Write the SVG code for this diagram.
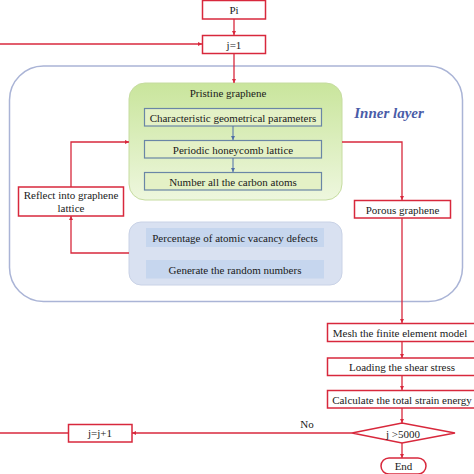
<svg xmlns="http://www.w3.org/2000/svg" width="474" height="474" viewBox="0 0 474 474">
<defs>
<linearGradient id="gGreen" x1="0" y1="0" x2="0" y2="1">
<stop offset="0" stop-color="#c9e59c"/>
<stop offset="1" stop-color="#eef7de"/>
</linearGradient>
<marker id="arR" viewBox="0 0 6 6" refX="6" refY="3" markerWidth="4" markerHeight="4" orient="auto" markerUnits="userSpaceOnUse">
<path d="M0,0 L6,3 L0,6 z" fill="#d8283c"/>
</marker>
<marker id="arB" viewBox="0 0 6 6" refX="6" refY="3" markerWidth="4" markerHeight="4" orient="auto" markerUnits="userSpaceOnUse">
<path d="M0,0 L6,3 L0,6 z" fill="#4f6fa8"/>
</marker>
<style>
text{font-family:"Liberation Serif","Times New Roman",serif;fill:#1a1a1a;text-anchor:middle;dominant-baseline:central}
.rb{fill:#ffffff;stroke:#d8283c;stroke-width:1.5}
.gi{fill:#e4f1c6;stroke:#6a86a6;stroke-width:1.2}
.bi{fill:#c6d6ee;stroke:none}
.t{font-size:11px}
.c{fill:none;stroke:#d8283c;stroke-width:1.3}
.cb{fill:none;stroke:#4f6fa8;stroke-width:1}
</style>
</defs>
<g id="container">
<rect x="9.5" y="66" width="453" height="235.5" rx="34" ry="34" fill="#ffffff" stroke="#aab4d6" stroke-width="1.5"/>
<text x="389" y="113" style="font-size:15px;font-weight:bold;font-style:italic;fill:#4a5ca8">Inner layer</text>
</g>
<g id="pristine">
<rect x="129" y="83" width="213" height="117" rx="16" ry="16" fill="url(#gGreen)" stroke="#c6dca0" stroke-width="1"/>
<text class="t" x="228" y="93">Pristine graphene</text>
</g>
<g id="params"><rect class="gi" x="144.5" y="108.5" width="177" height="17.5"/><text class="t" x="233" y="117.5">Characteristic geometrical parameters</text></g>
<g id="lattice"><rect class="gi" x="144.5" y="140.5" width="177" height="17.5"/><text class="t" x="233" y="149.5">Periodic honeycomb  lattice</text></g>
<g id="number"><rect class="gi" x="144.5" y="172.5" width="177" height="17.5"/><text class="t" x="233" y="181.5">Number all the carbon atoms</text></g>
<g id="defects-group">
<rect x="129" y="222" width="213" height="63" rx="12" ry="12" fill="#d9e1f1" stroke="#c9d2e6" stroke-width="1"/>
</g>
<g id="percentage"><rect class="bi" x="146" y="228" width="178" height="19"/><text class="t" x="235" y="237.5">Percentage of atomic vacancy defects</text></g>
<g id="random"><rect class="bi" x="146" y="260" width="178" height="18.5"/><text class="t" x="235" y="269.5">Generate the random numbers</text></g>
<g id="pi"><rect class="rb" x="202.5" y="0.5" width="63" height="18.5"/><text class="t" x="234" y="10">Pi</text></g>
<g id="j1"><rect class="rb" x="202.5" y="35.5" width="63" height="18"/><text class="t" x="234" y="44.5">j=1</text></g>
<g id="reflect"><rect class="rb" x="18.5" y="187" width="105" height="29"/><text class="t" x="71" y="195">Reflect into graphene</text><text class="t" x="71" y="208">lattice</text></g>
<g id="porous"><rect class="rb" x="354.5" y="200.5" width="96" height="17.5"/><text class="t" x="402.5" y="209.5">Porous graphene</text></g>
<g id="mesh"><rect class="rb" x="327.5" y="323.5" width="150" height="18"/><text class="t" x="400" y="332.5">Mesh the finite element model</text></g>
<g id="loading"><rect class="rb" x="327.5" y="358" width="150" height="17.5"/><text class="t" x="402" y="367">Loading the shear stress</text></g>
<g id="calc"><rect class="rb" x="327.5" y="390.5" width="150" height="17.5"/><text class="t" x="402" y="399.5">Calculate the total strain energy</text></g>
<g id="decision"><polygon class="rb" points="352,433 402,423 455,433 402,443"/><text class="t" x="403" y="433.5">j &gt;5000</text></g>
<g id="end"><rect class="rb" x="381" y="458" width="45" height="16" rx="8" ry="8"/><text class="t" x="403.5" y="465.5">End</text></g>
<g id="jinc"><rect class="rb" x="68.5" y="424.5" width="63.5" height="17.5"/><text class="t" x="100" y="433">j=j+1</text></g>
<g id="connectors">
<path class="c" d="M234,19 V35" marker-end="url(#arR)"/>
<path class="c" d="M0,44 H202" marker-end="url(#arR)"/>
<path class="c" d="M234,53.5 V83" marker-end="url(#arR)"/>
<path class="c" d="M342,142 H402 V200" marker-end="url(#arR)"/>
<path class="c" d="M402,218 V323" marker-end="url(#arR)"/>
<path class="c" d="M402,341.5 V358" marker-end="url(#arR)"/>
<path class="c" d="M402,375.5 V390" marker-end="url(#arR)"/>
<path class="c" d="M402,408 V423" marker-end="url(#arR)"/>
<path class="c" d="M402,443 V458" marker-end="url(#arR)"/>
<path class="c" d="M352,433 H132" marker-end="url(#arR)"/>
<path class="c" d="M68.5,433 H0"/>
<path class="c" d="M71,187 V142 H129" marker-end="url(#arR)"/>
<path class="c" d="M129,253 H71 V216" marker-end="url(#arR)"/>
<path class="cb" d="M233,126 V140" marker-end="url(#arB)"/>
<path class="cb" d="M233,158 V172" marker-end="url(#arB)"/>
<text x="307" y="424" style="font-size:11px">No</text>
</g>
</svg>
